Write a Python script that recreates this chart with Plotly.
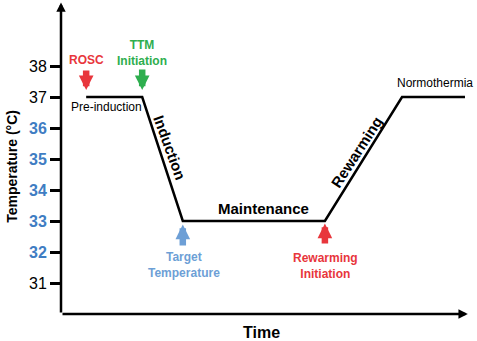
import plotly.graph_objects as go

# ---- data ----
time = [6.2, 20, 30, 65, 84, 99.5]
temp = [37, 37, 33, 33, 37, 37]
ytick_vals = [31, 32, 33, 34, 35, 36, 37, 38]
ytick_labels = ["31", "32", "33", "34", "35", "36", "37", "38"]
ytick_highlight = [False, True, True, True, True, True, False, False]

FONT = "Liberation Sans, Arial, sans-serif"
RED = "#e8363c"
GREEN = "#2eae4e"
BLUE_TICK = "#3f7dc3"
BLUE_LIGHT = "#6d9fd6"

ticktext = [
    f'<b><span style="color:{BLUE_TICK}">{t}</span></b>' if h else t
    for t, h in zip(ytick_labels, ytick_highlight)
]

fig = go.Figure()
fig.add_trace(go.Scatter(x=time, y=temp, mode="lines",
                         line=dict(color="black", width=2.5),
                         showlegend=False, hoverinfo="skip", cliponaxis=False))

ann = []
# axes with arrows
ann.append(dict(x=100.2, y=30, ax=0, ay=30, xref="x", yref="y", axref="x", ayref="y",
                showarrow=True, arrowhead=2, arrowsize=0.75, arrowwidth=2.5,
                arrowcolor="black", text=""))
ann.append(dict(x=0, y=40.05, ax=0, ay=30, xref="x", yref="y", axref="x", ayref="y",
                showarrow=True, arrowhead=2, arrowsize=0.75, arrowwidth=2.5,
                arrowcolor="black", text=""))

def block_arrow(x, y, standoff, ay, color):
    return dict(x=x, y=y, ax=0, ay=ay, xref="x", yref="y", showarrow=True,
                arrowhead=2, arrowsize=0.45, arrowwidth=6.5, arrowcolor=color,
                standoff=standoff, text="")

ann.append(block_arrow(time[0], temp[0], 7, -28, RED))
ann.append(block_arrow(time[1], temp[1], 7, -29, GREEN))
ann.append(block_arrow(time[2], temp[2], 3.5, 26, BLUE_LIGHT))
ann.append(block_arrow(time[3], temp[3], 2.5, 24, RED))

def label(x, y, text, size=12, color="black", bold=False, angle=0, yshift=0, xshift=0):
    t = f"<b>{text}</b>" if bold else text
    return dict(x=x, y=y, xref="x", yref="y", text=t, showarrow=False,
                textangle=angle, yshift=yshift, xshift=xshift,
                font=dict(family=FONT, size=size, color=color),
                xanchor="center", yanchor="middle")

ann.append(label(time[0], temp[0], "ROSC", 12, RED, True, yshift=37))
ann.append(label(time[1], temp[1], "TTM<br>Initiation", 12, GREEN, True, yshift=44))
ann.append(label(11.2, temp[0], "Pre-induction", 12, "black", False, yshift=-10))
ann.append(label(92.1, temp[5], "Normothermia", 12, "black", False, yshift=14))
ann.append(label(time[2], temp[2], "Target<br>Temperature", 12, BLUE_LIGHT, True, yshift=-44, xshift=1))
ann.append(label(time[3], temp[3], "Rewarming<br>Initiation", 12, RED, True, yshift=-45, xshift=1))
ann.append(label(49.8, 33, "Maintenance", 15, "black", True, yshift=13))
ann.append(label(26.8, 35.37, "Induction", 15, "black", True, angle=70))
ann.append(label(72.9, 35.24, "Rewarming", 15, "black", True, angle=-57))

# axis titles
ann.append(dict(x=0, y=34.75, xref="x", yref="y", xshift=-49, text="<b>Temperature (°C)</b>",
                textangle=-90, showarrow=False, font=dict(family=FONT, size=14, color="black")))
ann.append(dict(x=49.3, y=30, xref="x", yref="y", yshift=-18, text="<b>Time</b>",
                showarrow=False, font=dict(family=FONT, size=16, color="black")))

fig.update_layout(
    width=477, height=341,
    margin=dict(l=61, r=10, t=4, b=27),
    paper_bgcolor="white", plot_bgcolor="white",
    font=dict(family=FONT, size=16, color="black"),
    annotations=ann,
    xaxis=dict(range=[0, 100], showgrid=False, zeroline=False, showticklabels=False,
               showline=False, ticks=""),
    yaxis=dict(range=[30, 40], showgrid=False, zeroline=False, showline=False,
               tickmode="array", tickvals=ytick_vals, ticktext=ticktext,
               ticks="outside", ticklen=10, tickwidth=2.5, tickcolor="black",
               tickfont=dict(family=FONT, size=16, color="black")),
)

fig.write_html("out.html", config={"displayModeBar": False},
               post_script="document.body.style.margin='0';document.body.style.overflow='hidden';")
